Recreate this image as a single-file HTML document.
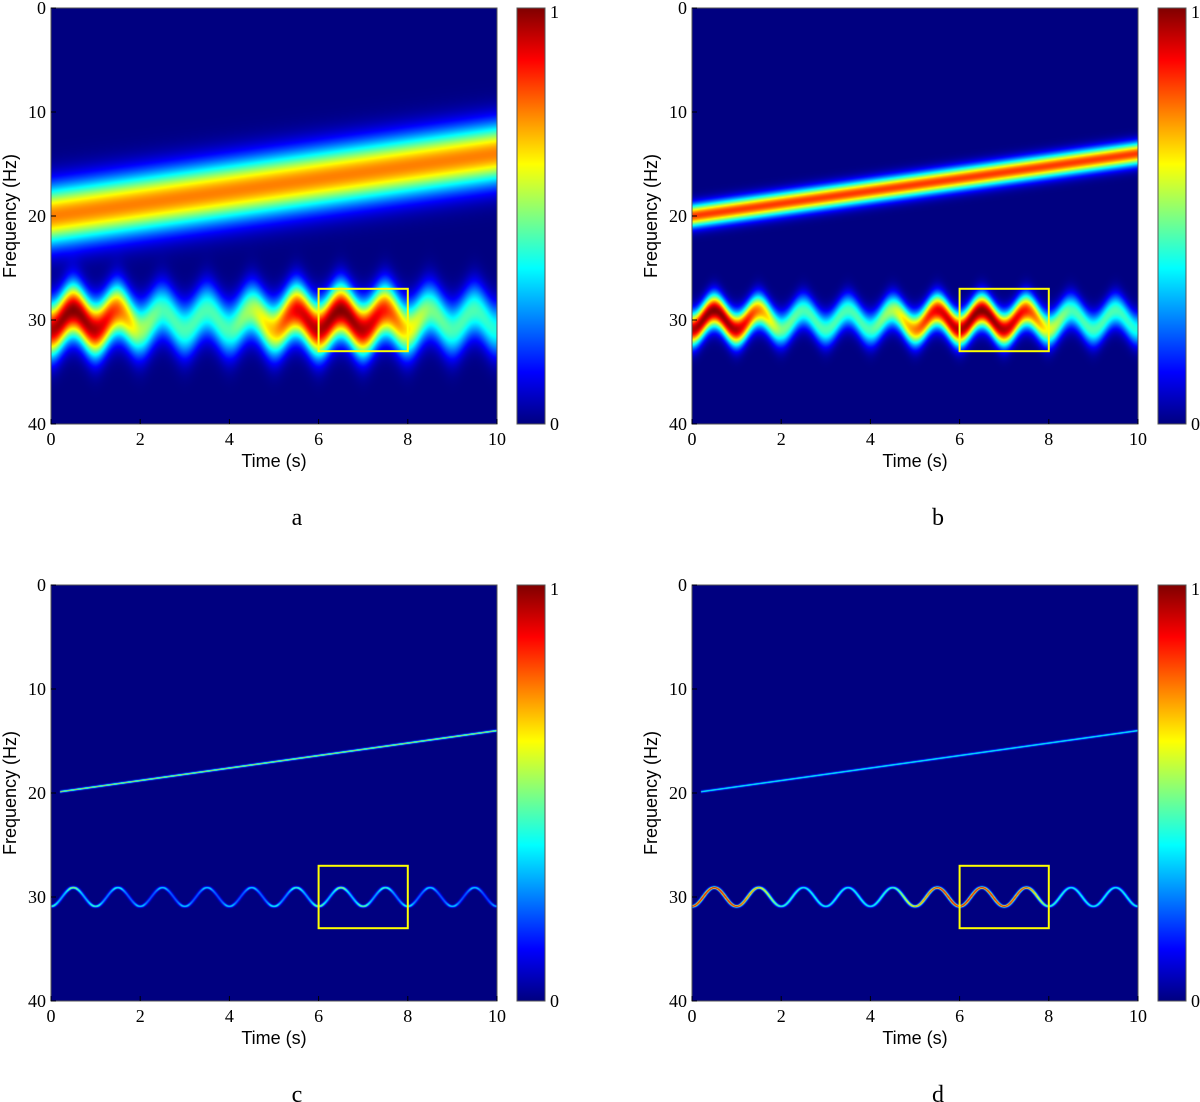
<!DOCTYPE html>
<html><head><meta charset="utf-8">
<style>
html,body{margin:0;padding:0;background:#fff;}
#wrap{position:relative;width:1200px;height:1102px;overflow:hidden;}
canvas{position:absolute;}
svg{position:absolute;left:0;top:0;}
.tk{font-family:"Liberation Serif",serif;font-size:18px;fill:#000;}
.al{font-family:"Liberation Sans",sans-serif;font-size:18px;fill:#000;}
.pl{font-family:"Liberation Serif",serif;font-size:24px;fill:#000;}
</style></head>
<body>
<div id="wrap">
<svg id="ov" width="1200" height="1102"></svg>
</div>
<script>
// ---- data ----
const panelNames = ['a','b','c','d'];
const chirpStartHz = 20, chirpEndHz = 14;          // chirp: frequency at t=0 and t=10
const sineCenterHz = 30, sineAmpHz = 0.9, sinePeriodS = 1;
const envTimes = [0,0.5,1,1.5,2,2.5,3,3.5,4,4.5,5,5.5,6,6.5,7,7.5,8,8.5,9,9.5,10];
const sineEnvA = [0.95,1.0,0.95,0.8,0.55,0.45,0.45,0.45,0.45,0.55,0.7,0.9,0.95,1.0,0.95,0.85,0.65,0.5,0.45,0.45,0.4];
const sineEnvB = [0.95,1.0,0.95,0.75,0.5,0.45,0.45,0.45,0.45,0.55,0.75,0.9,0.95,1.0,0.95,0.85,0.6,0.45,0.45,0.45,0.4];
const sineEnvC = [0.45,0.55,0.45,0.4,0.35,0.35,0.35,0.35,0.35,0.35,0.4,0.45,0.5,0.55,0.5,0.45,0.4,0.35,0.35,0.35,0.3];
const sineEnvD = [0.9,0.92,0.88,0.7,0.45,0.4,0.4,0.4,0.4,0.45,0.7,0.88,0.92,0.9,0.88,0.85,0.45,0.4,0.4,0.4,0.4];
const chirpPeak = [0.75,0.82,0.55,0.4];
const chirpSigmaHz = [2.0,0.75,0.07,0.07];
const sineSigmaHz = [1.8,1.1,0.08,0.08];
const slopeDim = [0,0,1,0];
const chirpStartT = [0,0,0.2,0.2];
const xTicks = [0,2,4,6,8,10];
const yTicks = [0,10,20,30,40];
const boxT = [6,8], boxF = [27,33];
const envs = [sineEnvA,sineEnvB,sineEnvC,sineEnvD];

// ---- layout ----
const origins = [[51,8],[692,8],[51,585],[692,585]];
const PW = 446, PH = 416;
const xs = (t,o)=>o[0]+t/10*PW;
const ys = (f,o)=>o[1]+f/40*PH;

function jet(v){
  v=Math.max(0,Math.min(1,v));
  const c=x=>Math.max(0,Math.min(1,x));
  const r=c(1.5-Math.abs(4*v-3)), g=c(1.5-Math.abs(4*v-2)), b=c(1.5-Math.abs(4*v-1));
  return [r*255,g*255,b*255];
}
function envAt(arr,t){
  const i=Math.min(envTimes.length-2,Math.floor(t/0.5));
  const u=(t-envTimes[i])/0.5;
  return arr[i]*(1-u)+arr[i+1]*u;
}
const wrap=document.getElementById('wrap');
const ov=document.getElementById('ov');
const NS='http://www.w3.org/2000/svg';
function mk(tag,attrs,name,txt){
  const e=document.createElementNS(NS,tag);
  for(const k in attrs)e.setAttribute(k,attrs[k]);
  
  
  if(txt!==undefined)e.textContent=txt;
  ov.appendChild(e);return e;
}
panelNames.forEach((p,pi)=>{
  const o=origins[pi];
  const cv=document.createElement('canvas');
  cv.width=PW;cv.height=PH;cv.style.left=o[0]+'px';cv.style.top=o[1]+'px';
  
  
  wrap.insertBefore(cv,ov);
  const ctx=cv.getContext('2d');const img=ctx.createImageData(PW,PH);
  const env=envs[pi];
  const thin=pi>=2;
  for(let x=0;x<PW;x++){
    const t=(x+0.5)/PW*10;
    const fc=chirpStartHz+(chirpEndHz-chirpStartHz)*t/10;
    const fs=sineCenterHz+sineAmpHz*Math.cos(2*Math.PI*t/sinePeriodS);
    const slope=Math.abs(sineAmpHz*2*Math.PI/sinePeriodS*Math.sin(2*Math.PI*t/sinePeriodS));
    const widen=thin?Math.sqrt(1+slope*slope*0.1):1;
    const ss=sineSigmaHz[pi]*widen;
    const ea=envAt(env,t)*(slopeDim[pi]?Math.min(1,1.3/widen):1);
    const cOn=t>=chirpStartT[pi]?1:0;
    for(let y=0;y<PH;y++){
      const f=(y+0.5)/PH*40;
      const dc=(f-fc)/chirpSigmaHz[pi], ds=(f-fs)/ss;
      let v=cOn*chirpPeak[pi]*Math.exp(-0.5*dc*dc)+ea*Math.exp(-0.5*ds*ds);
      const col=jet(v);const k=(y*PW+x)*4;
      img.data[k]=col[0];img.data[k+1]=col[1];img.data[k+2]=col[2];img.data[k+3]=255;
    }
  }
  ctx.putImageData(img,0,0);
  mk('rect',{x:o[0],y:o[1],width:PW,height:PH,fill:'none',stroke:'#555','stroke-width':1},'plot-frame-'+p);
  xTicks.forEach(t=>{
    const X=xs(t,o);
    mk('line',{x1:X,y1:o[1]+PH,x2:X,y2:o[1]+PH-5,stroke:'#000'},'x-tick-'+p);
    mk('text',{x:X,y:o[1]+PH+21,'text-anchor':'middle',class:'tk'},'x-tick-label-'+p,String(t));
  });
  yTicks.forEach(f=>{
    const Y=ys(f,o);
    mk('line',{x1:o[0],y1:Y,x2:o[0]+5,y2:Y,stroke:'#000'},'y-tick-'+p);
    mk('text',{x:o[0]-5,y:Y+6,'text-anchor':'end',class:'tk'},'y-tick-label-'+p,String(f));
  });
  mk('text',{x:o[0]+PW/2,y:o[1]+PH+43,'text-anchor':'middle',class:'al'},'x-axis-title-'+p,'Time (s)');
  mk('text',{x:o[0]-41,y:o[1]+PH/2,'text-anchor':'middle',class:'al',transform:`rotate(-90 ${o[0]-41} ${o[1]+PH/2})`,dy:6},'y-axis-title-'+p,'Frequency (Hz)');
  mk('rect',{x:xs(boxT[0],o),y:ys(boxF[0],o),width:xs(boxT[1],o)-xs(boxT[0],o),height:ys(boxF[1],o)-ys(boxF[0],o),fill:'none',stroke:'#ffff00','stroke-width':2},'zoom-box-'+p);
  const cbx=o[0]+466;
  const gid='g'+p;
  const defs=mk('defs',{},'colorbar-defs-'+p);
  const lg=document.createElementNS(NS,'linearGradient');
  lg.setAttribute('id',gid);lg.setAttribute('x1','0');lg.setAttribute('y1','1');lg.setAttribute('x2','0');lg.setAttribute('y2','0');
  for(let i=0;i<=16;i++){const c=jet(i/16);const s=document.createElementNS(NS,'stop');s.setAttribute('offset',i/16);s.setAttribute('stop-color',`rgb(${c.map(Math.round).join(',')})`);lg.appendChild(s);}
  defs.appendChild(lg);
  mk('rect',{x:cbx,y:o[1],width:28,height:PH,fill:`url(#${gid})`,stroke:'#555','stroke-width':1},'colorbar-'+p);
  mk('text',{x:cbx+33,y:o[1]+10,class:'tk'},'colorbar-max-label-'+p,'1');
  mk('text',{x:cbx+33,y:o[1]+PH+6,class:'tk'},'colorbar-min-label-'+p,'0');
  mk('text',{x:o[0]+246,y:o[1]+517,'text-anchor':'middle',class:'pl'},'panel-label-'+p,p);
});
</script>
</body></html>
